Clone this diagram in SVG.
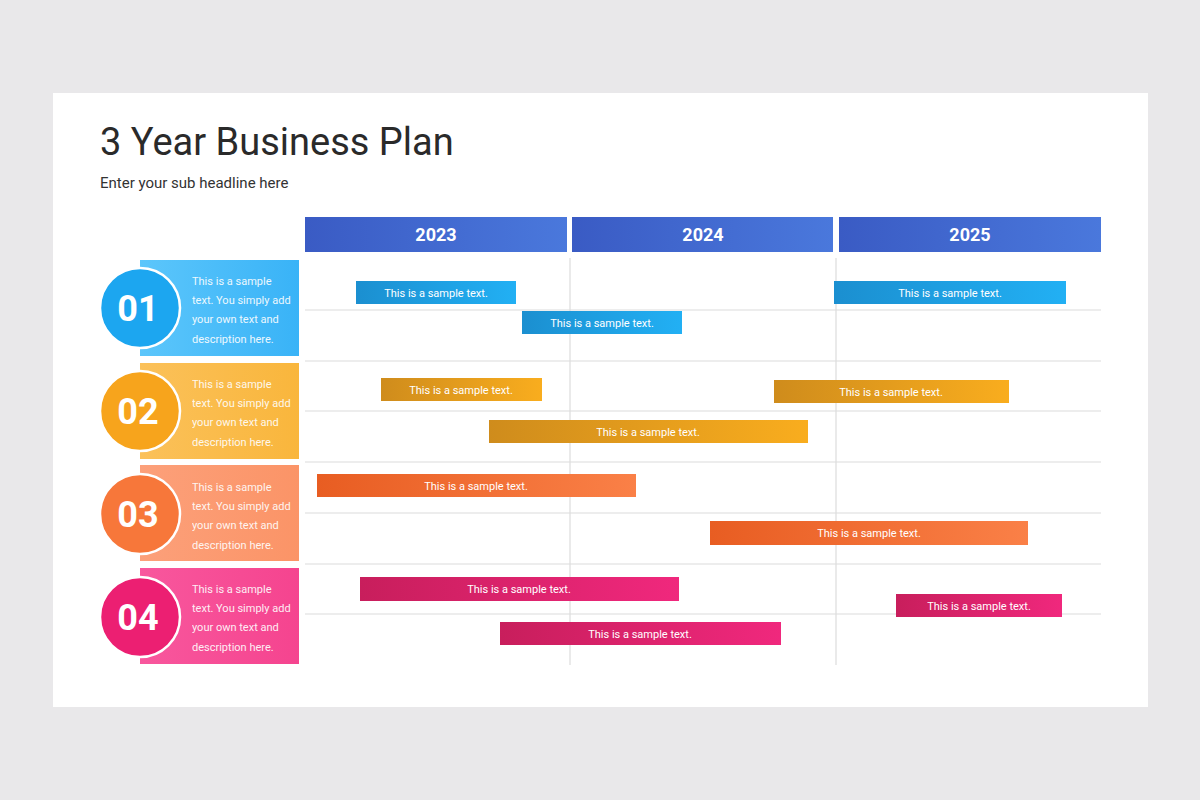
<svg xmlns="http://www.w3.org/2000/svg" width="1200" height="800" viewBox="0 0 1200 800">
<defs>
<linearGradient id="hd" x1="0" x2="1"><stop offset="0" stop-color="#3a5bc4"/><stop offset="1" stop-color="#4a78dc"/></linearGradient>
<linearGradient id="b1" x1="0" x2="1"><stop offset="0" stop-color="#1b8fd0"/><stop offset="1" stop-color="#22b0f4"/></linearGradient>
<linearGradient id="b2" x1="0" x2="1"><stop offset="0" stop-color="#cf8c1c"/><stop offset="1" stop-color="#f9ad1e"/></linearGradient>
<linearGradient id="b3" x1="0" x2="1"><stop offset="0" stop-color="#e85d22"/><stop offset="1" stop-color="#fa8047"/></linearGradient>
<linearGradient id="b4" x1="0" x2="1"><stop offset="0" stop-color="#c81e5c"/><stop offset="1" stop-color="#f0287d"/></linearGradient>
<linearGradient id="p1" x1="0" x2="1"><stop offset="0" stop-color="#5cc6fb"/><stop offset="1" stop-color="#39b3f7"/></linearGradient>
<linearGradient id="p2" x1="0" x2="1"><stop offset="0" stop-color="#fbc15a"/><stop offset="1" stop-color="#f9b63c"/></linearGradient>
<linearGradient id="p3" x1="0" x2="1"><stop offset="0" stop-color="#fca07a"/><stop offset="1" stop-color="#fb9467"/></linearGradient>
<linearGradient id="p4" x1="0" x2="1"><stop offset="0" stop-color="#f8579d"/><stop offset="1" stop-color="#f5448f"/></linearGradient>
</defs>
<style>
text{font-family:Roboto,"Liberation Sans",sans-serif}
.bt{fill:#fff;font-size:11px;text-anchor:middle}
.pt{fill:#fff;font-size:11px;opacity:.9}
.num{fill:#fff;font-size:36px;font-weight:bold;text-anchor:middle}
.yr{fill:#fff;font-size:18px;font-weight:bold;text-anchor:middle}
.g{stroke:#dcdcdc;stroke-width:1.2}
</style>
<rect width="1200" height="800" fill="#e9e8ea"/>
<rect x="53" y="93" width="1095" height="614" fill="#fff"/>
<text x="100" y="155" font-size="38" fill="#2a2a2a">3 Year Business Plan</text>
<text x="100" y="188" font-size="15" fill="#333">Enter your sub headline here</text>
<g id="headers">
<rect x="305" y="217" width="262" height="35" fill="url(#hd)"/><text class="yr" x="436" y="241">2023</text>
<rect x="572" y="217" width="261" height="35" fill="url(#hd)"/><text class="yr" x="703" y="241">2024</text>
<rect x="839" y="217" width="262" height="35" fill="url(#hd)"/><text class="yr" x="970" y="241">2025</text>
</g>
<g id="grid">
<line class="g" x1="305" y1="310" x2="1101" y2="310"/><line class="g" x1="305" y1="361" x2="1101" y2="361"/>
<line class="g" x1="305" y1="411" x2="1101" y2="411"/><line class="g" x1="305" y1="462" x2="1101" y2="462"/>
<line class="g" x1="305" y1="513" x2="1101" y2="513"/><line class="g" x1="305" y1="564" x2="1101" y2="564"/>
<line class="g" x1="305" y1="614" x2="1101" y2="614"/>
<line class="g" x1="570" y1="258" x2="570" y2="665"/><line class="g" x1="836" y1="258" x2="836" y2="665"/>
</g>
<g id="row1">
<rect x="140" y="260" width="159" height="96" fill="url(#p1)"/>
<text class="pt" x="192" y="285">This is a sample</text><text class="pt" x="192" y="304">text. You simply add</text><text class="pt" x="192" y="323">your own text and</text><text class="pt" x="192" y="343">description here.</text>
<circle cx="140" cy="308" r="40" fill="#1ca6f0" stroke="#fff" stroke-width="2.5"/><text class="num" x="138" y="321">01</text>
</g>
<g id="row2">
<rect x="140" y="363" width="159" height="96" fill="url(#p2)"/>
<text class="pt" x="192" y="388">This is a sample</text><text class="pt" x="192" y="407">text. You simply add</text><text class="pt" x="192" y="426">your own text and</text><text class="pt" x="192" y="446">description here.</text>
<circle cx="140" cy="411" r="40" fill="#f7a41c" stroke="#fff" stroke-width="2.5"/><text class="num" x="138" y="424">02</text>
</g>
<g id="row3">
<rect x="140" y="465" width="159" height="96" fill="url(#p3)"/>
<text class="pt" x="192" y="491">This is a sample</text><text class="pt" x="192" y="510">text. You simply add</text><text class="pt" x="192" y="529">your own text and</text><text class="pt" x="192" y="549">description here.</text>
<circle cx="140" cy="514" r="40" fill="#f7773a" stroke="#fff" stroke-width="2.5"/><text class="num" x="138" y="527">03</text>
</g>
<g id="row4">
<rect x="140" y="568" width="159" height="96" fill="url(#p4)"/>
<text class="pt" x="192" y="593">This is a sample</text><text class="pt" x="192" y="612">text. You simply add</text><text class="pt" x="192" y="631">your own text and</text><text class="pt" x="192" y="651">description here.</text>
<circle cx="140" cy="617" r="40" fill="#ec1f72" stroke="#fff" stroke-width="2.5"/><text class="num" x="138" y="630">04</text>
</g>
<g id="bars">
<rect x="356" y="281" width="160" height="23" fill="url(#b1)"/><text class="bt" x="436" y="297">This is a sample text.</text>
<rect x="522" y="311" width="160" height="23" fill="url(#b1)"/><text class="bt" x="602" y="327">This is a sample text.</text>
<rect x="834" y="281" width="232" height="23" fill="url(#b1)"/><text class="bt" x="950" y="297">This is a sample text.</text>
<rect x="381" y="378" width="161" height="23" fill="url(#b2)"/><text class="bt" x="461" y="394">This is a sample text.</text>
<rect x="774" y="380" width="235" height="23" fill="url(#b2)"/><text class="bt" x="891" y="396">This is a sample text.</text>
<rect x="489" y="420" width="319" height="23" fill="url(#b2)"/><text class="bt" x="648" y="436">This is a sample text.</text>
<rect x="317" y="474" width="319" height="23" fill="url(#b3)"/><text class="bt" x="476" y="490">This is a sample text.</text>
<rect x="710" y="521" width="318" height="24" fill="url(#b3)"/><text class="bt" x="869" y="537">This is a sample text.</text>
<rect x="360" y="577" width="319" height="24" fill="url(#b4)"/><text class="bt" x="519" y="593">This is a sample text.</text>
<rect x="896" y="594" width="166" height="23" fill="url(#b4)"/><text class="bt" x="979" y="610">This is a sample text.</text>
<rect x="500" y="622" width="281" height="23" fill="url(#b4)"/><text class="bt" x="640" y="638">This is a sample text.</text>
</g>
</svg>
